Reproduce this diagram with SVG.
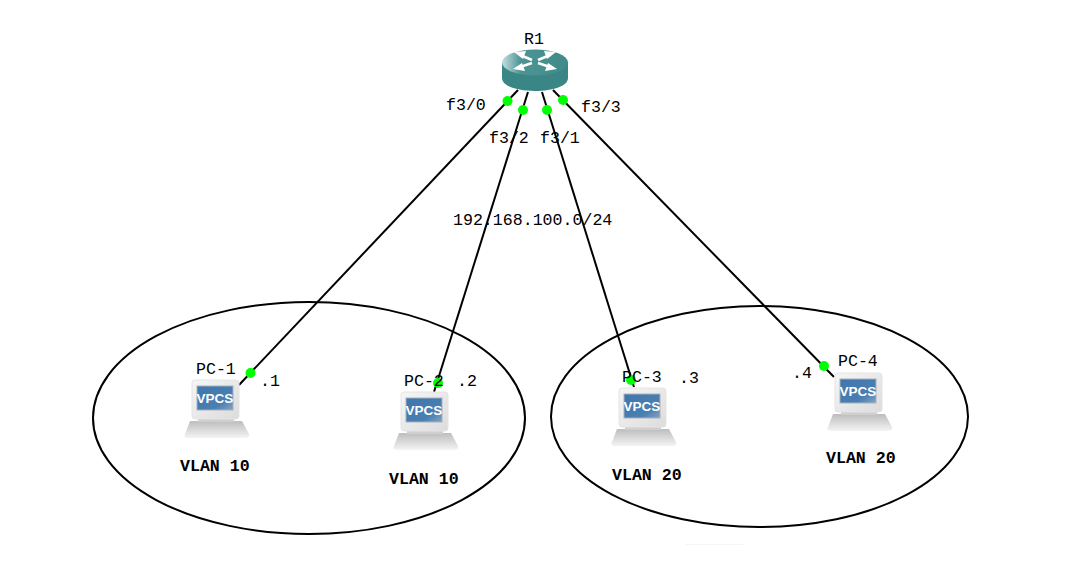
<svg xmlns="http://www.w3.org/2000/svg" width="1073" height="578" viewBox="0 0 1073 578">
<style>
.zone{fill:none;stroke:#000;stroke-width:2}
.link{stroke:#000;stroke-width:2;fill:none}
.dot{fill:#00ff00}
text{font-family:"Liberation Mono","DejaVu Sans Mono",monospace;font-size:16.6px;fill:#000}
.vlan{font-weight:bold}
.vpcs{font-family:"Liberation Sans",Arial,sans-serif;font-weight:bold;font-size:13.500px;fill:#fff;text-anchor:middle}
</style>
<defs>
<linearGradient id="body" x1="0" y1="0" x2="1" y2="1"><stop offset="0" stop-color="#f6f6f6"/><stop offset="1" stop-color="#dcdcdc"/></linearGradient>
<linearGradient id="base" x1="0" y1="0" x2="0" y2="1"><stop offset="0" stop-color="#bdbdbd"/><stop offset="1" stop-color="#f4f4f4"/></linearGradient>
<linearGradient id="screen" x1="0" y1="0" x2="1" y2="1"><stop offset="0" stop-color="#3f76ac"/><stop offset="0.7" stop-color="#4a7fb2"/><stop offset="1" stop-color="#86a4c2"/></linearGradient>
<linearGradient id="rtop" x1="0" y1="0" x2="1" y2="0"><stop offset="0" stop-color="#c4dfdf"/><stop offset="0.28" stop-color="#4f9494"/><stop offset="1" stop-color="#3f8a8a"/></linearGradient>
<symbol id="pc" width="66" height="60" viewBox="0 0 66 60" overflow="visible">
<path d="M6 41H58L65 54Q66 58 61 58H4Q-1 58 1 54Z" fill="url(#base)"/>
<rect x="14" y="37" width="36" height="5" fill="#cfcfcf"/>
<rect x="8" y="0" width="47" height="39" rx="3" fill="url(#body)" stroke="#e4e4e4"/>
<rect x="13" y="6" width="36" height="24" fill="url(#screen)" stroke="#a9b2bb"/>
<text class="vpcs" x="31" y="23">VPCS</text>
</symbol>
</defs>
<rect width="1073" height="578" fill="#fff"/>
<g id="zones">
<ellipse class="zone" cx="309" cy="418" rx="216" ry="116"/>
<ellipse class="zone" cx="759.5" cy="416.5" rx="208.5" ry="110.5"/>
<line x1="686" y1="544.5" x2="743" y2="544.5" stroke="#f3f5f7"/>
</g>
<g id="connectors">
<line class="link" x1="518" y1="90" x2="239" y2="385"/>
<line class="link" x1="528" y1="92" x2="434" y2="392"/>
<line class="link" x1="542" y1="92" x2="634" y2="387"/>
<line class="link" x1="553" y1="90" x2="834" y2="377"/>
</g>
<g id="status">
<circle class="dot" cx="507.500" cy="101" r="5"/>
<circle class="dot" cx="523" cy="110" r="5"/>
<circle class="dot" cx="547" cy="110" r="5"/>
<circle class="dot" cx="563" cy="100" r="5"/>
<circle class="dot" cx="250.500" cy="373" r="5"/>
<circle class="dot" cx="438" cy="383" r="5"/>
<circle class="dot" cx="631" cy="380" r="5"/>
<circle class="dot" cx="824" cy="366" r="5"/>
</g>
<g id="R1">
<path d="M502 62V78C502 86 517 91 535 91S568 86 568 78V62Z" fill="#3a8585"/>
<ellipse cx="535" cy="62.500" rx="33" ry="13" fill="url(#rtop)"/>
<g fill="none" stroke="#fff" stroke-width="2.500">
<path d="M520 55L532 60M538 60L550 55"/>
<path d="M520 67L532 63M538 63L550 67"/>
</g>
<g fill="#fff">
<path d="M514 52L526 51L523 59Z"/>
<path d="M556 52L544 51L547 59Z"/>
<path d="M513 69L522 63L525 71Z"/>
<path d="M557 69L548 63L545 71Z"/>
</g>
<text x="534" y="44" text-anchor="middle">R1</text>
</g>
<g id="PC-1"><use href="#pc" x="184" y="380"/><text x="196" y="374">PC-1</text><text class="vlan" x="180" y="471">VLAN 10</text></g>
<g id="PC-2"><use href="#pc" x="393" y="392"/><text x="404" y="386">PC-2</text><text class="vlan" x="389" y="484">VLAN 10</text></g>
<g id="PC-3"><use href="#pc" x="611" y="388"/><text x="622" y="382">PC-3</text><text class="vlan" x="612" y="480">VLAN 20</text></g>
<g id="PC-4"><use href="#pc" x="827" y="373"/><text x="838" y="366">PC-4</text><text class="vlan" x="826" y="463">VLAN 20</text></g>
<g id="labels">
<text x="446" y="110">f3/0</text>
<text x="489" y="143">f3/2</text>
<text x="540" y="143">f3/1</text>
<text x="581" y="112">f3/3</text>
<text x="453" y="225">192.168.100.0/24</text>
<text x="260" y="386">.1</text>
<text x="457" y="386">.2</text>
<text x="679" y="383">.3</text>
<text x="792" y="378">.4</text>
</g>
</svg>
